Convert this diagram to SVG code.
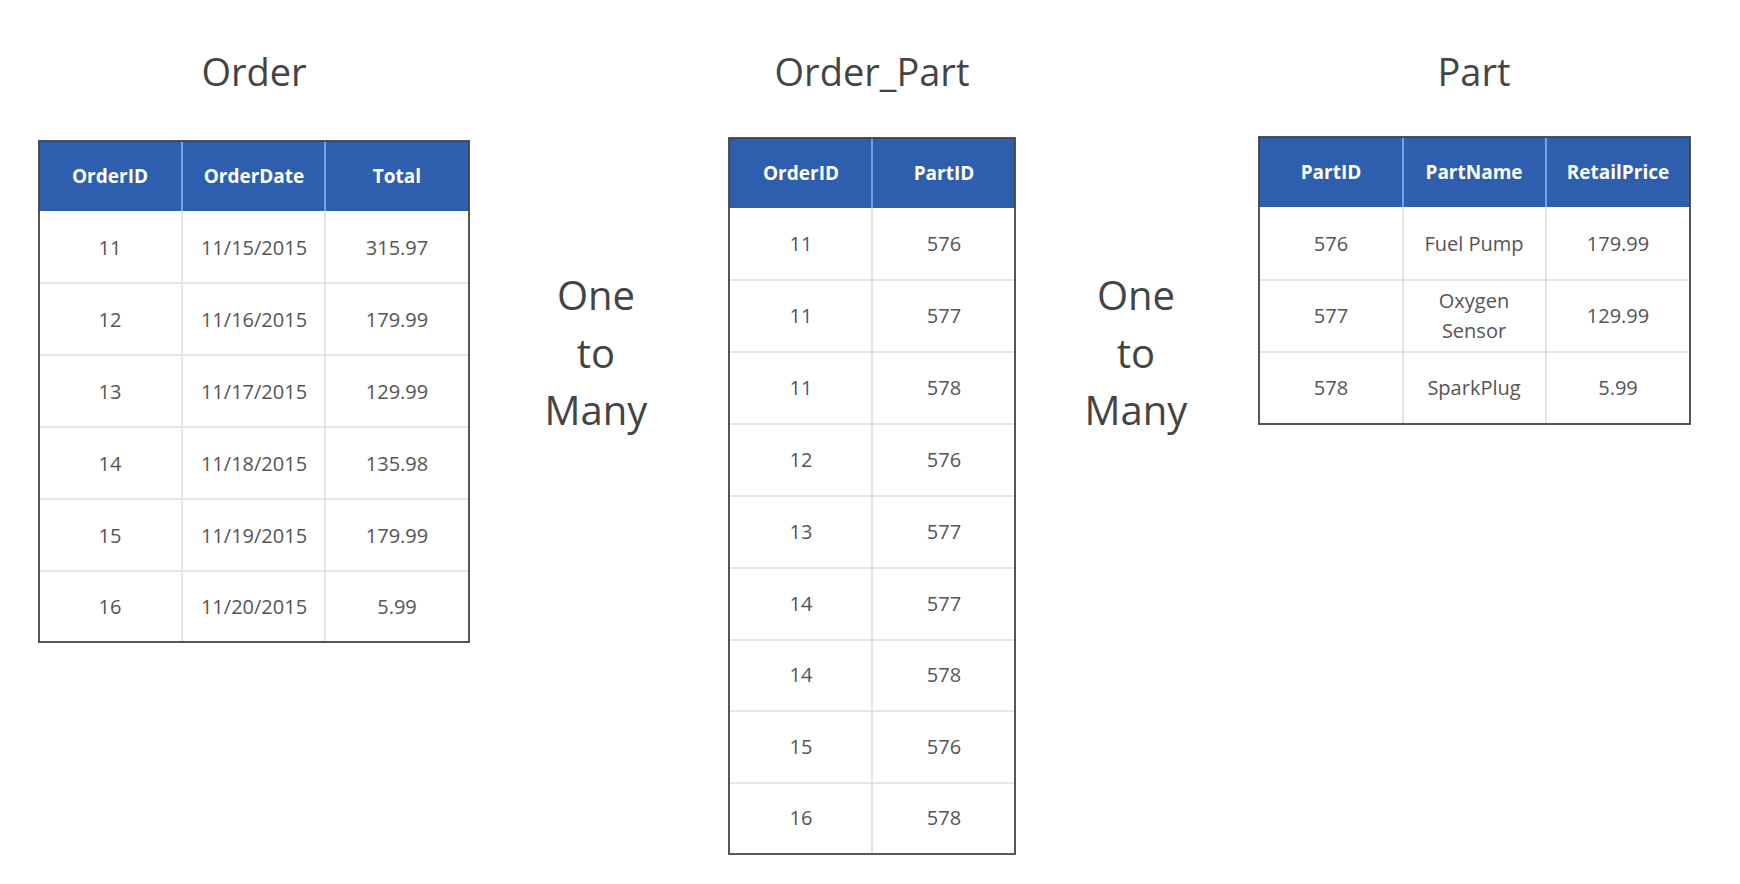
<svg xmlns="http://www.w3.org/2000/svg" width="1740" height="884" viewBox="0 0 1740 884">
<style>
.t{font-family:"Open Sans","Liberation Sans",sans-serif;font-size:38px;fill:#444;text-anchor:middle}
.r{font-family:"Open Sans","Liberation Sans",sans-serif;font-size:40px;fill:#444;text-anchor:middle}
.h{font-family:"Open Sans","Liberation Sans",sans-serif;font-size:19px;font-weight:bold;fill:#fff;text-anchor:middle}
.c{font-family:"Open Sans","Liberation Sans",sans-serif;font-size:20px;fill:#555;text-anchor:middle}
.hd{fill:#2e5fae}
.hl{stroke:#8db8ee;stroke-width:1.5}
.cl{stroke:#dcdcdc;stroke-width:1.5}
.ob{fill:none;stroke:#444;stroke-width:1.8}
</style>
<rect width="1740" height="884" fill="#fff"/>
<text class="t" x="254" y="86">Order</text>
<text class="t" x="872" y="86">Order_Part</text>
<text class="t" x="1474" y="86">Part</text>
<g id="rel1"><text class="r" x="596" y="310">One</text><text class="r" x="596" y="368">to</text><text class="r" x="596" y="425">Many</text></g>
<g id="rel2"><text class="r" x="1136" y="310">One</text><text class="r" x="1136" y="368">to</text><text class="r" x="1136" y="425">Many</text></g>
<g id="order">
<rect class="hd" x="39" y="141" width="430" height="70"/>
<line class="hl" x1="182" y1="141" x2="182" y2="211"/><line class="hl" x1="325" y1="141" x2="325" y2="211"/>
<g class="cl"><line x1="182" y1="211" x2="182" y2="642"/><line x1="325" y1="211" x2="325" y2="642"/>
<line x1="39" y1="283" x2="469" y2="283"/><line x1="39" y1="355" x2="469" y2="355"/><line x1="39" y1="427" x2="469" y2="427"/><line x1="39" y1="499" x2="469" y2="499"/><line x1="39" y1="571" x2="469" y2="571"/></g>
<rect class="ob" x="39" y="141" width="430" height="501"/>
<text class="h" x="110" y="183">OrderID</text><text class="h" x="254" y="183">OrderDate</text><text class="h" x="397" y="183">Total</text>
<text class="c" x="110" y="255">11</text><text class="c" x="254" y="255">11/15/2015</text><text class="c" x="397" y="255">315.97</text>
<text class="c" x="110" y="327">12</text><text class="c" x="254" y="327">11/16/2015</text><text class="c" x="397" y="327">179.99</text>
<text class="c" x="110" y="399">13</text><text class="c" x="254" y="399">11/17/2015</text><text class="c" x="397" y="399">129.99</text>
<text class="c" x="110" y="471">14</text><text class="c" x="254" y="471">11/18/2015</text><text class="c" x="397" y="471">135.98</text>
<text class="c" x="110" y="543">15</text><text class="c" x="254" y="543">11/19/2015</text><text class="c" x="397" y="543">179.99</text>
<text class="c" x="110" y="614">16</text><text class="c" x="254" y="614">11/20/2015</text><text class="c" x="397" y="614">5.99</text>
</g>
<g id="order_part">
<rect class="hd" x="729" y="138" width="286" height="70"/>
<line class="hl" x1="872" y1="138" x2="872" y2="208"/>
<g class="cl"><line x1="872" y1="208" x2="872" y2="854"/>
<line x1="729" y1="280" x2="1015" y2="280"/><line x1="729" y1="352" x2="1015" y2="352"/><line x1="729" y1="424" x2="1015" y2="424"/><line x1="729" y1="496" x2="1015" y2="496"/><line x1="729" y1="568" x2="1015" y2="568"/><line x1="729" y1="640" x2="1015" y2="640"/><line x1="729" y1="711" x2="1015" y2="711"/><line x1="729" y1="783" x2="1015" y2="783"/></g>
<rect class="ob" x="729" y="138" width="286" height="716"/>
<text class="h" x="801" y="180">OrderID</text><text class="h" x="944" y="180">PartID</text>
<text class="c" x="801" y="251">11</text><text class="c" x="944" y="251">576</text>
<text class="c" x="801" y="323">11</text><text class="c" x="944" y="323">577</text>
<text class="c" x="801" y="395">11</text><text class="c" x="944" y="395">578</text>
<text class="c" x="801" y="467">12</text><text class="c" x="944" y="467">576</text>
<text class="c" x="801" y="539">13</text><text class="c" x="944" y="539">577</text>
<text class="c" x="801" y="611">14</text><text class="c" x="944" y="611">577</text>
<text class="c" x="801" y="682">14</text><text class="c" x="944" y="682">578</text>
<text class="c" x="801" y="754">15</text><text class="c" x="944" y="754">576</text>
<text class="c" x="801" y="825">16</text><text class="c" x="944" y="825">578</text>
</g>
<g id="part">
<rect class="hd" x="1259" y="137" width="431" height="70"/>
<line class="hl" x1="1403" y1="137" x2="1403" y2="207"/><line class="hl" x1="1546" y1="137" x2="1546" y2="207"/>
<g class="cl"><line x1="1403" y1="207" x2="1403" y2="424"/><line x1="1546" y1="207" x2="1546" y2="424"/>
<line x1="1259" y1="280" x2="1690" y2="280"/><line x1="1259" y1="352" x2="1690" y2="352"/></g>
<rect class="ob" x="1259" y="137" width="431" height="287"/>
<text class="h" x="1331" y="179">PartID</text><text class="h" x="1474" y="179">PartName</text><text class="h" x="1618" y="179">RetailPrice</text>
<text class="c" x="1331" y="251">576</text><text class="c" x="1474" y="251">Fuel Pump</text><text class="c" x="1618" y="251">179.99</text>
<text class="c" x="1331" y="323">577</text><text class="c" x="1474" y="308">Oxygen</text><text class="c" x="1474" y="338">Sensor</text><text class="c" x="1618" y="323">129.99</text>
<text class="c" x="1331" y="395">578</text><text class="c" x="1474" y="395">SparkPlug</text><text class="c" x="1618" y="395">5.99</text>
</g>
</svg>
